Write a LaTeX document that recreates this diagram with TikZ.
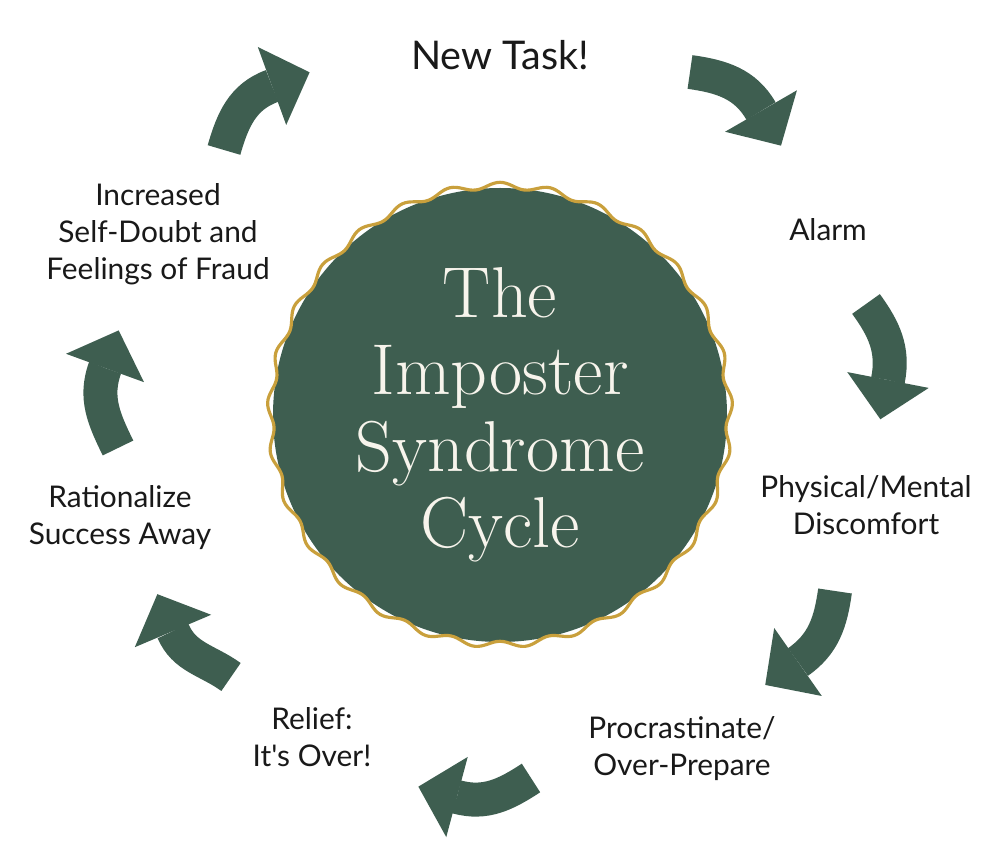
\documentclass[tikz,border=0pt]{standalone}
\usepackage{fontspec}
\newfontfamily\lblfont{Lato}
\usetikzlibrary{arrows.meta}
\definecolor{cycgreen}{HTML}{3E5E50}
\definecolor{cycgold}{HTML}{C9A03C}
\definecolor{cyccream}{HTML}{F7F4EC}
\begin{document}
\begin{tikzpicture}[x=0.02cm,y=0.02cm,
    lbl/.style={align=center,font=\lblfont\fontsize{17}{21}\selectfont,text=black!90},
    cyc/.style={cycgreen,line width=0.68cm,
        -{Triangle[width=1.66cm,length=0.8cm,line width=0pt]}}]
    \useasboundingbox[fill=white] (0,0) rectangle (1000,842);

    % center disk with wavy rim
    \fill[cycgreen] (500,427) circle[radius=227];
    \draw[cycgold,line width=1.8pt,shift={(500,427)}]
        plot[domain=0:29,samples=465,smooth] ({360/29*\x}:{229.5+3.2*sin(360*mod(\x,1))}) -- cycle;
    \node[align=center,text=cyccream,font=\fontsize{41}{43.7}\selectfont] (title) at (500,427)
        {The\\Imposter\\Syndrome\\Cycle};

    % steps
    \node[lbl,font=\lblfont\fontsize{22.5}{26}\selectfont] (newtask) at (500,787) {New Task!};
    \node[lbl] (alarm) at (828,612) {Alarm};
    \node[lbl] (discomfort) at (866,337) {Physical/Mental\\Discomfort};
    \node[lbl] (procrast) at (682,93) {Procrastinate/\\Over-Prepare};
    \node[lbl] (relief) at (312,105) {Relief:\\It's Over!};
    \node[lbl] (rationalize) at (120,324) {Rationalize\\Success Away};
    \node[lbl] (selfdoubt) at (158,608) {Increased\\Self-Doubt and\\Feelings of Fraud};

    % arrows: tail -> base of head, then a short straight run for the tip
    \coordinate (t1) at (224,692); \coordinate (b1) at (272,756);
    \coordinate (t2) at (690,770); \coordinate (b2) at (761,731);
    \coordinate (t3) at (866,538); \coordinate (b3) at (888,462);
    \coordinate (t4) at (835,251); \coordinate (b4) at (798,180);
    \coordinate (t5) at (531,64);  \coordinate (b5) at (457,45);
    \coordinate (t6) at (231,165); \coordinate (b6) at (173,211);
    \coordinate (t7) at (118,394); \coordinate (b7) at (105,474);

    \draw[cyc] (t1) to[out=74,in=200] (b1) -- ++(20:40);
    \draw[cyc] (t2) to[out=-8,in=120] (b2) -- ++(-60:40);
    \draw[cyc] (t3) to[out=-54,in=79] (b3) -- ++(-101:40);
    \draw[cyc] (t4) to[out=-98,in=35] (b4) -- ++(215:40);
    \draw[cyc] (t5) to[out=213,in=-15] (b5) -- ++(165:40);
    \draw[cyc] (t6) to[out=144,in=-67] (b6) -- ++(113:40);
    \draw[cyc] (t7) to[out=116,in=250] (b7) -- ++(70:40);
\end{tikzpicture}
\end{document}
